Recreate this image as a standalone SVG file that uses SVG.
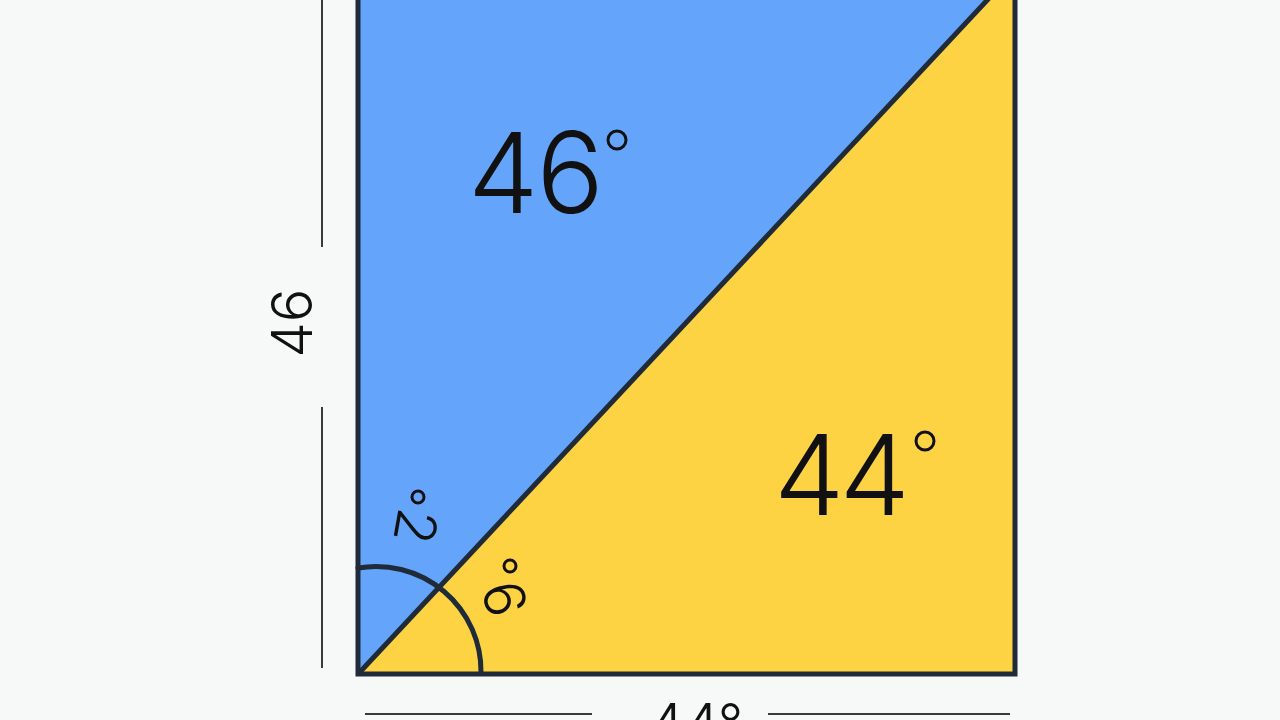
<svg xmlns="http://www.w3.org/2000/svg" width="1280" height="720" viewBox="0 0 1280 720">
<style>
.edge{stroke:#1f2b38;stroke-width:5;fill:none;stroke-linecap:round;stroke-linejoin:miter}
.dim{stroke:#3a3a3a;stroke-width:2;fill:none}
.big{font-family:Inter,"Liberation Sans",sans-serif;font-weight:300;font-size:112px;fill:#111}
.mid{font-family:Inter,"Liberation Sans",sans-serif;font-weight:300;font-size:56px;fill:#111}
.deg{fill:none;stroke:#111;stroke-width:3}
</style>
<rect width="1280" height="720" fill="#f7f8f8"/>
<g id="shape">
<rect x="358" y="-20" width="657" height="694" fill="#fdd344"/>
<polygon points="358,674 358,-20 1006,-20 360,672" fill="#64a5fb"/>
<line class="edge" x1="360" y1="672" x2="1006" y2="-20"/>
<path class="edge" d="M358,568 A105,105 0 0 1 481,672" stroke-width="4"/>
<rect class="edge" x="358" y="-20" width="657" height="694"/>
</g>
<g id="labels">
<text class="big" x="468" y="213" letter-spacing="-2">46</text>
<circle class="deg" cx="617" cy="140" r="9"/>
<text class="big" x="774" y="515" letter-spacing="-5">44</text>
<circle class="deg" cx="925" cy="441" r="9"/>
<text class="mid" transform="translate(396,523) rotate(100)" text-anchor="middle" font-size="52">2</text>
<circle class="deg" cx="418" cy="497" r="6" stroke-width="2.5"/>
<text class="mid" transform="translate(485,604) rotate(75)" text-anchor="middle" font-size="52">6</text>
<circle class="deg" cx="510" cy="566" r="6" stroke-width="2.5"/>
</g>
<g id="connectors">
<line class="dim" x1="322" y1="0" x2="322" y2="247"/>
<line class="dim" x1="322" y1="407" x2="322" y2="668"/>
<line class="dim" x1="365" y1="714" x2="592" y2="714"/>
<line class="dim" x1="768" y1="714" x2="1010" y2="714"/>
</g>
<g id="dims">
<text class="mid" transform="translate(312,323) rotate(-90)" text-anchor="middle">46</text>
<text class="mid" x="696" y="744" text-anchor="middle">44°</text>
</g>
</svg>
